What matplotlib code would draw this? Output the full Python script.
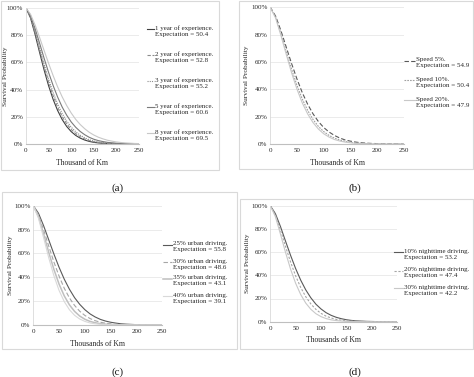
import matplotlib
matplotlib.use("Agg")
import matplotlib.pyplot as plt
from matplotlib.lines import Line2D
from matplotlib.patches import Rectangle
from matplotlib.ticker import FuncFormatter

plt.rcParams['font.family'] = ['Liberation Serif', 'DejaVu Serif']

km = [0, 10, 20, 30, 40, 50, 60, 70, 80, 90, 100, 110, 120, 130, 140, 150,
      160, 170, 180, 190, 200, 210, 220, 230, 240, 250]

# (a) years of experience
exp1 = [100, 92.7, 80.7, 67.4, 54.5, 42.8, 32.8, 24.6, 18.0, 12.9, 9.1, 6.3, 4.3, 2.9, 1.9, 1.2, 0.8, 0.5, 0.3, 0.2, 0.1, 0.07, 0.04, 0.02, 0.01, 0.01]
exp2 = [100, 93.2, 81.9, 69.3, 56.8, 45.4, 35.4, 27.0, 20.2, 14.8, 10.7, 7.6, 5.3, 3.6, 2.5, 1.6, 1.1, 0.7, 0.5, 0.3, 0.2, 0.1, 0.07, 0.04, 0.02, 0.01]
exp3 = [100, 93.6, 82.9, 70.9, 58.9, 47.7, 37.8, 29.4, 22.4, 16.8, 12.4, 9.0, 6.4, 4.5, 3.1, 2.2, 1.5, 1.0, 0.6, 0.4, 0.3, 0.2, 0.1, 0.07, 0.04, 0.03]
exp5 = [100, 94.4, 85.0, 74.2, 63.1, 52.6, 43.0, 34.5, 27.2, 21.2, 16.2, 12.3, 9.2, 6.8, 4.9, 3.5, 2.5, 1.8, 1.2, 0.9, 0.6, 0.4, 0.3, 0.2, 0.1, 0.08]
exp8 = [100, 95.4, 87.6, 78.4, 68.8, 59.3, 50.3, 42.0, 34.7, 28.3, 22.8, 18.1, 14.3, 11.2, 8.6, 6.6, 5.0, 3.8, 2.8, 2.1, 1.5, 1.1, 0.8, 0.6, 0.4, 0.3]
labels_a = ["1 year of experience.\nExpectation = 50.4",
            "2 year of experience.\nExpectation = 52.8",
            "3 year of experience.\nExpectation = 55.2",
            "5 year of experience.\nExpectation = 60.6",
            "8 year of experience.\nExpectation = 69.5"]

# (b) speed
speed5 = [100, 93.5, 82.8, 70.7, 58.7, 47.5, 37.5, 29.1, 22.1, 16.5, 12.1, 8.8, 6.3, 4.4, 3.0, 2.1, 1.4, 0.9, 0.6, 0.4, 0.3, 0.2, 0.1, 0.06, 0.04, 0.02]
speed10 = [100, 92.7, 80.7, 67.4, 54.5, 42.8, 32.8, 24.6, 18.0, 12.9, 9.1, 6.3, 4.3, 2.9, 1.9, 1.2, 0.8, 0.5, 0.3, 0.2, 0.1, 0.07, 0.04, 0.02, 0.01, 0.01]
speed20 = [100, 92.1, 79.3, 65.4, 52.0, 40.1, 30.0, 22.0, 15.7, 11.0, 7.5, 5.1, 3.3, 2.2, 1.4, 0.9, 0.5, 0.3, 0.2, 0.1, 0.07, 0.04, 0.02, 0.01, 0.01, 0.0]
labels_b = ["Speed 5%.\nExpectation = 54.9",
            "Speed 10%.\nExpectation = 50.4",
            "Speed 20%.\nExpectation = 47.9"]

# (c) urban driving
urban25 = [100, 93.7, 83.2, 71.3, 59.4, 48.3, 38.4, 30.0, 22.9, 17.3, 12.8, 9.3, 6.7, 4.7, 3.3, 2.3, 1.6, 1.0, 0.7, 0.5, 0.3, 0.2, 0.1, 0.08, 0.05, 0.03]
urban30 = [100, 92.3, 79.7, 66.0, 52.7, 40.9, 30.8, 22.7, 16.4, 11.5, 8.0, 5.4, 3.6, 2.3, 1.5, 1.0, 0.6, 0.4, 0.2, 0.1, 0.08, 0.05, 0.03, 0.01, 0.01, 0.0]
urban35 = [100, 90.9, 76.3, 60.8, 46.5, 34.2, 24.4, 16.9, 11.4, 7.5, 4.8, 3.0, 1.9, 1.1, 0.7, 0.4, 0.2, 0.1, 0.07, 0.04, 0.02, 0.01, 0.0, 0.0, 0.0, 0.0]
urban40 = [100, 89.5, 73.1, 56.2, 41.2, 28.9, 19.6, 12.8, 8.1, 5.0, 3.0, 1.7, 1.0, 0.6, 0.3, 0.2, 0.08, 0.04, 0.02, 0.01, 0.0, 0.0, 0.0, 0.0, 0.0, 0.0]
labels_c = ["25% urban driving.\nExpectation = 55.8",
            "30% urban driving.\nExpectation = 48.6",
            "35% urban driving.\nExpectation = 43.1",
            "40% urban driving.\nExpectation = 39.1"]

# (d) nighttime driving
night10 = [100, 93.2, 82.1, 69.5, 57.2, 45.8, 35.8, 27.4, 20.6, 15.1, 11.0, 7.8, 5.5, 3.8, 2.6, 1.7, 1.1, 0.7, 0.5, 0.3, 0.2, 0.1, 0.07, 0.04, 0.03, 0.02]
night20 = [100, 92.0, 79.1, 64.9, 51.4, 39.5, 29.5, 21.5, 15.3, 10.6, 7.2, 4.8, 3.2, 2.0, 1.3, 0.8, 0.5, 0.3, 0.2, 0.1, 0.06, 0.03, 0.02, 0.01, 0.0, 0.0]
night30 = [100, 90.6, 75.6, 59.8, 45.3, 33.1, 23.4, 16.0, 10.7, 6.9, 4.4, 2.7, 1.6, 1.0, 0.6, 0.3, 0.2, 0.1, 0.05, 0.03, 0.01, 0.0, 0.0, 0.0, 0.0, 0.0]
labels_d = ["10% nighttime driving.\nExpectation = 53.2",
            "20% nighttime driving.\nExpectation = 47.4",
            "30% nighttime driving.\nExpectation = 42.2"]

x_ticks = [0, 50, 100, 150, 200, 250]
y_ticks = [0, 20, 40, 60, 80, 100]

W, H = 474, 377
fig = plt.figure(figsize=(W / 100, H / 100), dpi=100)
TXT = '#262626'


def px_axes(l, t, r, b):
    return fig.add_axes([l / W, 1 - b / H, (r - l) / W, (b - t) / H])


def box(l, t, r, b):
    fig.add_artist(Rectangle((l / W, 1 - b / H), (r - l) / W, (b - t) / H,
                             transform=fig.transFigure, fill=False,
                             edgecolor='#d9d9d9', linewidth=0.8))


def style(ax, xlabel, ylab_x):
    ax.set_xlim(0, 250)
    ax.set_ylim(0, 100)
    ax.set_xticks(x_ticks)
    ax.set_yticks(y_ticks)
    ax.yaxis.set_major_formatter(FuncFormatter(lambda v, p: f"{int(v)}%"))
    ax.tick_params(length=0, labelsize=5, colors=TXT, pad=3)
    ax.tick_params(axis='y', pad=2)
    ax.grid(axis='y', color='#e8e8e8', linewidth=0.6)
    ax.set_axisbelow(True)
    for s in ['top', 'right']:
        ax.spines[s].set_visible(False)
    ax.spines['left'].set_color('#d9d9d9')
    ax.spines['left'].set_linewidth(0.6)
    ax.spines['bottom'].set_color('#bfbfbf')
    ax.spines['bottom'].set_linewidth(0.8)
    ax.set_xlabel(xlabel, fontsize=5.5, color=TXT, labelpad=4)
    ax.set_ylabel("Survival Probability", fontsize=5.2, color=TXT, va='center')
    ax.yaxis.set_label_coords(ylab_x, 0.5)
    ax.patch.set_alpha(0)


def legend(labels, styles, x_line, x_text, ys):
    for lab, st, y in zip(labels, styles, ys):
        fig.add_artist(Line2D([x_line / W, (x_text - 1.5) / W], [1 - y / H, 1 - y / H],
                              transform=fig.transFigure, **st))
        fig.text(x_text / W, 1 - (y - 3.5) / H, lab, fontsize=5, color=TXT,
                 va='top', ha='left', linespacing=1.25)


# ---- (a)
box(1, 1, 219, 170)
ax = px_axes(26, 8, 139, 144)
st_a = [dict(color='#404040', lw=0.8, ls='-'),
        dict(color='#8c8c8c', lw=0.8, ls=(0, (3, 1.5))),
        dict(color='#8c8c8c', lw=0.8, ls=(0, (1, 1))),
        dict(color='#7a7a7a', lw=0.8, ls='-'),
        dict(color='#c8c8c8', lw=0.8, ls='-')]
for ys, st in zip([exp1, exp2, exp3, exp5, exp8], st_a):
    ax.plot(km, ys, **st)
style(ax, "Thousand of Km", -0.18)
legend(labels_a, st_a, 147, 155, [29, 55, 81, 107, 133])

# ---- (b)
box(239, 1, 473, 169)
ax = px_axes(270.3, 7.3, 403.7, 144)
st_b = [dict(color='#595959', lw=0.8, ls=(0, (4, 2))),
        dict(color='#a0a0a0', lw=0.8, ls=(0, (1.5, 1))),
        dict(color='#c8c8c8', lw=0.8, ls='-')]
for ys, st in zip([speed5, speed10, speed20], st_b):
    ax.plot(km, ys, **st)
style(ax, "Thousands of Km", -0.18)
legend(labels_b, st_b, 404, 416, [61, 80, 100])

# ---- (c)
box(2, 192, 237, 349)
ax = px_axes(33.3, 205.7, 162.3, 325)
st_c = [dict(color='#595959', lw=0.8, ls='-'),
        dict(color='#a6a6a6', lw=0.8, ls=(0, (4, 2))),
        dict(color='#bfbfbf', lw=1.1, ls='-'),
        dict(color='#d9d9d9', lw=0.8, ls='-')]
for ys, st in zip([urban25, urban30, urban35, urban40], st_c):
    ax.plot(km, ys, **st)
style(ax, "Thousands of Km", -0.18)
legend(labels_c, st_c, 163, 173, [245, 262, 279, 296])

# ---- (d)
box(240, 199, 473, 349)
ax = px_axes(270.3, 205.7, 397, 321.7)
st_d = [dict(color='#595959', lw=0.8, ls='-'),
        dict(color='#a6a6a6', lw=0.8, ls=(0, (2, 1.5))),
        dict(color='#c8c8c8', lw=0.8, ls='-')]
for ys, st in zip([night10, night20, night30], st_d):
    ax.plot(km, ys, **st)
style(ax, "Thousands of Km", -0.18)
legend(labels_d, st_d, 394, 404, [252, 271, 288])

# panel captions
for lab, x, y in [("(a)", 118, 188), ("(b)", 355, 188), ("(c)", 118, 372), ("(d)", 355, 372)]:
    fig.text(x / W, 1 - y / H, lab, fontsize=8, color='#1a1a1a', ha='center', va='center')

fig.savefig("out.png", dpi=100)
